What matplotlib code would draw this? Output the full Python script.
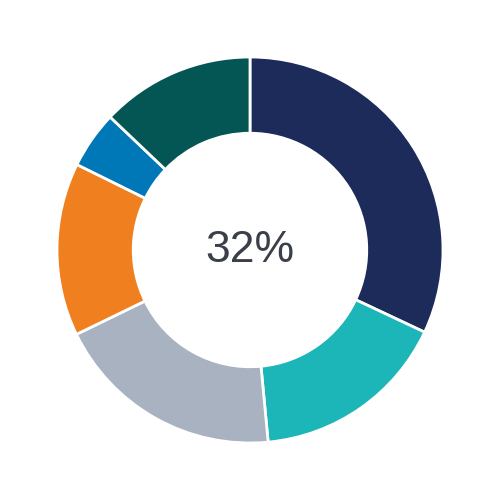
import matplotlib
matplotlib.use('Agg')
import matplotlib.pyplot as plt

# segment shares in %, clockwise from 12 o'clock
shares = [32.0, 16.5, 19.3, 14.5, 4.8, 12.9]
colors = ['#1c2b5a', '#1cb5b8', '#a8b2c1', '#f07f1f', '#0077b6', '#035654']
center_label = '32%'

fig = plt.figure(figsize=(5, 5), dpi=100)
ax = fig.add_axes([0, 0, 1, 1])

ax.pie(shares, colors=colors, startangle=90, counterclock=False, radius=1.0,
       wedgeprops=dict(width=0.395, edgecolor='white', linewidth=2))

ax.text(0, 0, center_label, ha='center', va='center', fontsize=32,
        color='#3a3f4a', family=['Liberation Sans', 'DejaVu Sans'])

lim = 250 / 193
ax.set_xlim(-lim, lim)
ax.set_ylim(-lim, lim)
ax.set_aspect('equal')
ax.axis('off')

fig.savefig('out.png', dpi=100, facecolor='white')
